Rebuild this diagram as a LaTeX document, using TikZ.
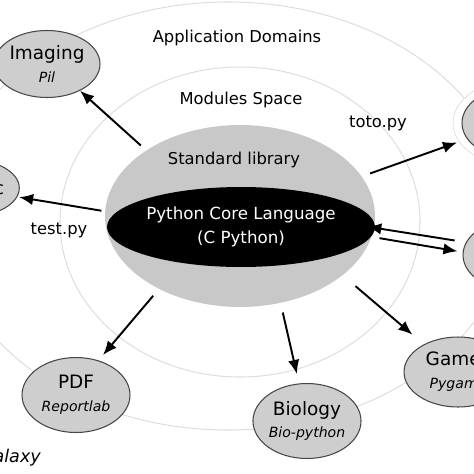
\documentclass[tikz,border=0pt]{standalone}
\usepackage{fontspec}
\setmainfont{DejaVu Sans}
\definecolor{ringgray}{RGB}{222,222,222}
\definecolor{stdgray}{RGB}{200,200,200}
\definecolor{domgray}{RGB}{206,206,206}
\definecolor{domline}{RGB}{70,70,70}
\usetikzlibrary{arrows.meta,shapes.geometric}

\newcommand{\domlabel}[2]{{\fontsize{10.5}{12}\selectfont #1}\\[1pt]{\fontsize{8}{10}\selectfont\itshape #2}}

\begin{document}
\begin{tikzpicture}[x=0.02cm,y=-0.02cm,
  ring/.style={draw=ringgray,line width=0.6pt},
  domnode/.style={ellipse,draw=domline,fill=domgray,line width=0.6pt,inner sep=0pt,align=center},
  arr/.style={-{Latex[length=8pt,width=6.5pt]},line width=1.1pt},
  lbl/.style={font=\fontsize{9.3}{11}\selectfont}]
  \useasboundingbox (0,0) rectangle (474,474);

  %% Rings: application domains, modules space
  \draw[ring] (228,216) ellipse [x radius=283, y radius=214];
  \draw[ring] (240,222) ellipse [x radius=180, y radius=155];

  %% Domain nodes (some run off the page)
  \node[ellipse,draw=ringgray,fill=white,minimum width=2.52cm,minimum height=1.72cm] (halo) at (516,123) {};
  \node[domnode,minimum width=2.16cm,minimum height=1.44cm] (topright) at (516,123) {};
  \node[domnode,minimum width=2.16cm,minimum height=1.44cm] (midright) at (517,255) {};
  \node[domnode,minimum width=1.88cm,minimum height=1.34cm] (imaging) at (47,64) {\domlabel{Imaging}{Pil}};
  \node[domnode,minimum width=1.8cm,minimum height=1.16cm,font=\fontsize{10}{12}\selectfont] (numeric) at (-33,188) {Numeric};
  \node[domnode,minimum width=2.16cm,minimum height=1.5cm] (pdf) at (76,395) {\domlabel{PDF}{Reportlab}};
  \node[domnode,minimum width=2.12cm,minimum height=1.5cm] (bio) at (307,421) {\domlabel{Biology}{Bio-python}};
  \node[domnode,minimum width=2.16cm,minimum height=1.4cm] (games) at (458,372) {\domlabel{Games}{Pygame}};

  %% Standard library and core
  \node[ellipse,fill=stdgray,minimum width=5.4cm,minimum height=3.64cm] (std) at (240,216) {};
  \node[ellipse,fill=black,text=white,align=center,inner sep=0pt,
        minimum width=4.56cm,minimum height=1.6cm,font=\fontsize{9.5}{11}\selectfont]
        (core) at (241,227) {Python Core Language\\[3pt](C Python)};

  %% Labels
  \node[lbl] (appl) at (237,38) {Application Domains};
  \node[lbl] (modsp) at (241,100) {Modules Space};
  \node[lbl] (stdlbl) at (234,160) {Standard library};
  \node[lbl] (toto) at (378,123) {toto.py};
  \node[lbl] (test) at (59,230) {test.py};
  \node[font=\fontsize{10}{12}\selectfont\itshape,anchor=east] (galaxy) at (47,458) {Python Galaxy};

  %% Arrows
  \draw[arr,shorten <=4pt] (std.145) -- (imaging.-39);
  \draw[arr,shorten <=2pt,shorten >=1pt] (std.178) -- (numeric.-10);
  \draw[arr,shorten <=5pt,shorten >=6pt] (std.18) -- (topright.-162);
  \draw[arr,shorten <=6.5pt,shorten >=-4pt] (midright.166) -- (std.-5);
  \draw[arr,shorten <=4.5pt,shorten >=3pt] (std.-9) -- (midright.177);
  \draw[arr,shorten <=9.5pt,shorten >=8.5pt] (std.-30) -- (games.141);
  \draw[arr,shorten <=5.5pt,shorten >=5.5pt] (std.-65) -- (bio.102);
  \draw[arr,shorten <=5pt,shorten >=4pt] (std.-138) -- (pdf.57);
\end{tikzpicture}
\end{document}
